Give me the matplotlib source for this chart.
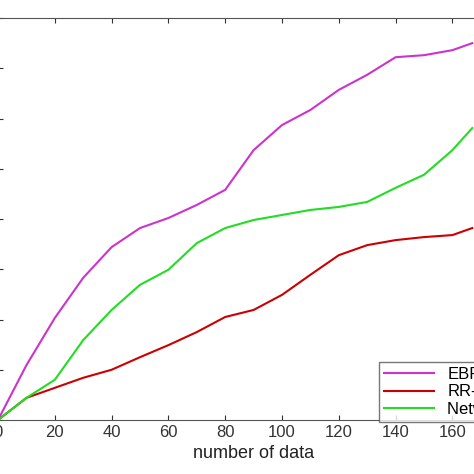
import matplotlib
matplotlib.use("Agg")
import matplotlib.pyplot as plt
plt.rcParams['font.family'] = ['Liberation Sans', 'DejaVu Sans']

x = [0,10,20,30,40,50,60,70,80,90,100,110,120,130,140,150,160,167]
ebre = [0,1.09,2.03,2.83,3.44,3.82,4.02,4.28,4.58,5.37,5.87,6.17,6.57,6.87,7.22,7.26,7.36,7.50]
rr = [0,0.44,0.64,0.84,1.00,1.25,1.49,1.75,2.05,2.19,2.49,2.89,3.28,3.48,3.58,3.64,3.68,3.82]
net = [0,0.44,0.80,1.59,2.19,2.69,2.99,3.52,3.82,3.98,4.08,4.18,4.24,4.34,4.62,4.88,5.37,5.81]
labels = ["EBRE", "RR-EBRE", "Network coding"]
xticks = [0,20,40,60,80,100,120,140,160,180]

fig = plt.figure(figsize=(4.74,4.74), dpi=100)
ax = fig.add_axes([-2/474, 54/474, 180*2.84/474, 402/474])
ax.plot(x, ebre, color="#cc33cc", lw=1.5, label=labels[0])
ax.plot(x, rr, color="#cc0000", lw=1.5, label=labels[1])
ax.plot(x, net, color="#22dd22", lw=1.5, label=labels[2])
ax.set_xlim(0,180)
ax.set_ylim(0,8)
ax.set_xticks(xticks)
ax.set_yticks(range(9))
ax.set_yticklabels([])
ax.tick_params(direction="in", top=True, right=True, labelsize=12, colors="#333333")
ax.set_xlabel("number of data", fontsize=13, color="#222222")
for s in ax.spines.values():
    s.set_color("#555555")
ax.legend(loc="upper left", bbox_to_anchor=(379/474, 1-362/474), bbox_transform=fig.transFigure,
          fancybox=False, edgecolor="#555555", fontsize=12, borderaxespad=0, handlelength=3,
          labelspacing=0.15, borderpad=0.3)
fig.savefig("out.png", dpi=100)
